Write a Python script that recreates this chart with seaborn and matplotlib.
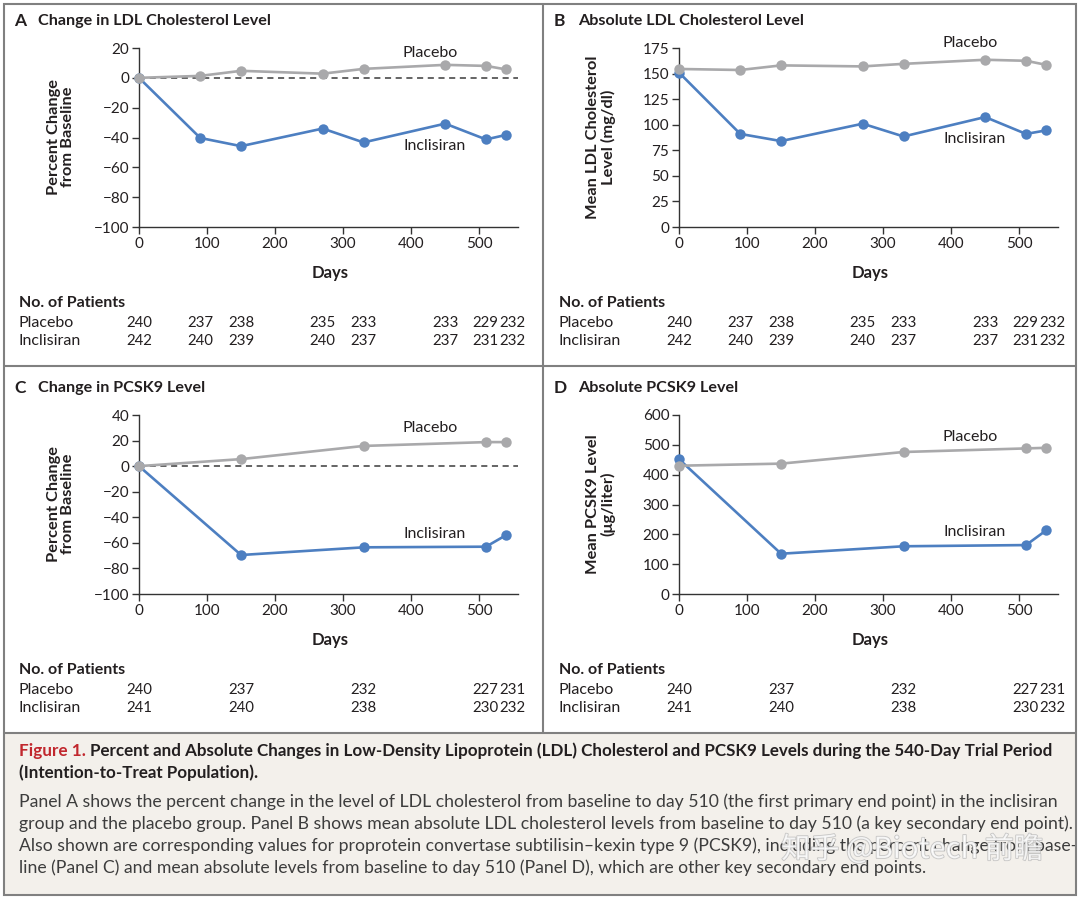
import matplotlib
matplotlib.use("Agg")
import matplotlib.pyplot as plt
import matplotlib.patheffects as pe
import matplotlib.transforms as mtransforms
from matplotlib import font_manager
from matplotlib.lines import Line2D
from matplotlib.patches import Rectangle
import pandas as pd
import seaborn as sns

# ── Data ──────────────────────────────────────────────────────────────────────

ldl_days = [0, 90, 150, 270, 330, 450, 510, 540]
ldl_pct_placebo    = [0, 1.3, 4.7, 2.8, 6.0, 8.7, 8.0, 5.6]
ldl_pct_inclisiran = [0, -40.3, -45.8, -34.0, -43.3, -30.7, -41.3, -38.2]
ldl_abs_placebo    = [154.5, 153.5, 158.0, 157.0, 159.5, 163.5, 162.5, 158.5]
ldl_abs_inclisiran = [151.0, 91.0, 84.0, 101.0, 88.5, 107.5, 91.0, 94.5]
ldl_n_placebo    = [240, 237, 238, 235, 233, 233, 229, 232]
ldl_n_inclisiran = [242, 240, 239, 240, 237, 237, 231, 232]

pcsk9_days = [0, 150, 330, 510, 540]
pcsk9_pct_placebo    = [0, 5.5, 15.8, 18.8, 18.8]
pcsk9_pct_inclisiran = [0, -69.5, -63.5, -63.0, -53.8]
pcsk9_abs_placebo    = [430, 437, 476, 488, 490]
pcsk9_abs_inclisiran = [452, 135, 160, 164, 214]
pcsk9_n_placebo    = [240, 237, 232, 227, 231]
pcsk9_n_inclisiran = [241, 240, 238, 230, 232]

x_ticks = [0, 100, 200, 300, 400, 500]

# ── Style ─────────────────────────────────────────────────────────────────────

W, H = 1080, 899
GREY = "#a9a9ab"
BLUE = "#4d7fc1"
INK  = "#231f20"
RED  = "#c1272d"
FRAME = "#808080"

sns.set_style("ticks")
names = set(font_manager.get_font_names())


def pick(*cands):
    for c in cands:
        if c in names:
            return c
    return "DejaVu Sans"


MAIN = pick("Lato", "Open Sans", "Noto Sans")
plt.rcParams["font.family"] = [MAIN, "DejaVu Sans"]
plt.rcParams["axes.unicode_minus"] = True


def fx(px):
    return px / W


def fy(py):
    return 1 - py / H


fig = plt.figure(figsize=(W / 100, H / 100), dpi=100)
fig.patch.set_facecolor("white")

panels = [
    dict(col=0, row=0, letter="A", title="Change in LDL Cholesterol Level",
         ylabel="Percent Change\nfrom Baseline", ylim=(-100, 20), yticks=range(-100, 21, 20),
         days=ldl_days, pla=ldl_pct_placebo, inc=ldl_pct_inclisiran, zero=True,
         n_pla=ldl_n_placebo, n_inc=ldl_n_inclisiran, lab_pla=16.5, lab_inc=-45.5),
    dict(col=1, row=0, letter="B", title="Absolute LDL Cholesterol Level",
         ylabel="Mean LDL Cholesterol\nLevel (mg/dl)", ylim=(0, 175), yticks=range(0, 176, 25),
         days=ldl_days, pla=ldl_abs_placebo, inc=ldl_abs_inclisiran, zero=False,
         n_pla=ldl_n_placebo, n_inc=ldl_n_inclisiran, lab_pla=180, lab_inc=86),
    dict(col=0, row=1, letter="C", title="Change in PCSK9 Level",
         ylabel="Percent Change\nfrom Baseline", ylim=(-100, 40), yticks=range(-100, 41, 20),
         days=pcsk9_days, pla=pcsk9_pct_placebo, inc=pcsk9_pct_inclisiran, zero=True,
         n_pla=pcsk9_n_placebo, n_inc=pcsk9_n_inclisiran, lab_pla=30, lab_inc=-53),
    dict(col=1, row=1, letter="D", title="Absolute PCSK9 Level",
         ylabel="Mean PCSK9 Level\n(\u03bcg/liter)", ylim=(0, 600), yticks=range(0, 601, 100),
         days=pcsk9_days, pla=pcsk9_abs_placebo, inc=pcsk9_abs_inclisiran, zero=False,
         n_pla=pcsk9_n_placebo, n_inc=pcsk9_n_inclisiran, lab_pla=526, lab_inc=209),
]

# ── Panels ────────────────────────────────────────────────────────────────────

for p in panels:
    dx, dy = 540 * p["col"], 367 * p["row"]
    ax = fig.add_axes([fx(139 + dx), fy(227 + dy), 379 / W, 179 / H])
    n = len(p["days"])
    df = pd.DataFrame({
        "day": p["days"] * 2,
        "value": p["inc"] + p["pla"],
        "group": ["Inclisiran"] * n + ["Placebo"] * n,
    })
    if p["zero"]:
        ax.axhline(0, color="#3a3a3a", lw=1.1, ls=(0, (4, 3)), zorder=1)
    sns.lineplot(data=df, x="day", y="value", hue="group",
                 hue_order=["Inclisiran", "Placebo"],
                 palette={"Inclisiran": BLUE, "Placebo": GREY},
                 marker="o", markersize=7.5, markeredgewidth=0, linewidth=1.9,
                 legend=False, ax=ax, zorder=3)
    for ln in ax.lines:
        ln.set_clip_on(False)

    ax.set_xlim(0, 557)
    ax.set_ylim(*p["ylim"])
    ax.set_xticks(x_ticks)
    ax.set_yticks(list(p["yticks"]))
    ax.set_xlabel("")
    ax.set_ylabel("")
    sns.despine(ax=ax)
    for s in ("left", "bottom"):
        ax.spines[s].set_color("#333333")
        ax.spines[s].set_linewidth(1.0)
    ax.tick_params(direction="out", length=5, width=1.0, color="#333333",
                   labelsize=11, labelcolor=INK, pad=2)

    ax.text(428, p["lab_pla"], "Placebo", ha="center", va="center", fontsize=11.5, color=INK)
    ax.text(434, p["lab_inc"], "Inclisiran", ha="center", va="center", fontsize=11.5, color=INK)

    # titles and labels
    fig.text(fx(14 + dx), fy(21 + dy), p["letter"], ha="left", va="center",
             fontsize=12.5, fontweight="bold", color=INK)
    fig.text(fx(38 + dx), fy(21 + dy), p["title"], ha="left", va="center",
             fontsize=11.6, fontweight="bold", color=INK)
    fig.text(fx(61 + dx), fy(137 + dy), p["ylabel"], ha="center", va="center",
             rotation=90, fontsize=11.8, fontweight="bold", color=INK,
             multialignment="center", linespacing=1.05)
    fig.text(fx(330 + dx), fy(273 + dy), "Days", ha="center", va="center",
             fontsize=12, fontweight="bold", color=INK)

    # number at risk table
    fig.text(fx(19 + dx), fy(303 + dy), "No. of Patients", ha="left", va="center",
             fontsize=11.5, fontweight="bold", color=INK)
    fig.text(fx(19 + dx), fy(323 + dy), "Placebo", ha="left", va="center",
             fontsize=11.5, color=INK)
    fig.text(fx(19 + dx), fy(341 + dy), "Inclisiran", ha="left", va="center",
             fontsize=11.5, color=INK)
    trans = mtransforms.blended_transform_factory(ax.transData, fig.transFigure)
    for i, d in enumerate(p["days"]):
        off = 9 if d == 540 else (-1 if d == 510 else 0)
        ax.text(d + off, fy(323 + dy), str(p["n_pla"][i]), transform=trans,
                ha="center", va="center", fontsize=10.8, color=INK)
        ax.text(d + off, fy(341 + dy), str(p["n_inc"][i]), transform=trans,
                ha="center", va="center", fontsize=10.8, color=INK)

# ── Frame and dividers ────────────────────────────────────────────────────────

fig.patches.append(Rectangle((fx(4), fy(895)), fx(1072), 162 / H, transform=fig.transFigure,
                             facecolor="#f3f0eb", edgecolor="none", zorder=0))
fig.patches.append(Rectangle((fx(4), fy(895)), fx(1072), 891 / H, transform=fig.transFigure,
                             facecolor="none", edgecolor=FRAME, lw=1.5, zorder=5))
fig.lines.append(Line2D([fx(543), fx(543)], [fy(4), fy(733)], transform=fig.transFigure,
                        color=FRAME, lw=1.5))
fig.lines.append(Line2D([fx(4), fx(1076)], [fy(366), fy(366)], transform=fig.transFigure,
                        color=FRAME, lw=1.5))
fig.lines.append(Line2D([fx(4), fx(1076)], [fy(733), fy(733)], transform=fig.transFigure,
                        color=FRAME, lw=1.5))

# ── Caption ───────────────────────────────────────────────────────────────────

fig.canvas.draw()
renderer = fig.canvas.get_renderer()
CAP_FONT = [MAIN, "DejaVu Sans"]


def fit(txt, right_px):
    # scale the font so the line ends where it does in the print
    bb = txt.get_window_extent(renderer)
    txt.set_fontsize(txt.get_fontsize() * (right_px - bb.x0) / bb.width)
    return txt.get_fontsize()


title_line = ("Percent and Absolute Changes in Low-Density Lipoprotein (LDL) Cholesterol "
              "and PCSK9 Levels during the 540-Day Trial Period")
head = fig.text(fx(19), fy(751), "Figure 1. " + title_line, ha="left", va="center",
                fontsize=12, fontweight="bold", family=CAP_FONT)
cap_size = fit(head, 1054)
head.remove()
fig_lbl = fig.text(fx(19), fy(751), "Figure 1.", ha="left", va="center", fontsize=cap_size,
                   fontweight="bold", color=RED, family=CAP_FONT)
bb = fig_lbl.get_window_extent(renderer)
t1 = fig.text(bb.x1 / W + fx(4), fy(751), title_line, ha="left", va="center",
              fontsize=cap_size, fontweight="bold", color=INK, family=CAP_FONT)
fit(t1, 1054)
fig.text(fx(19), fy(773), "(Intention-to-Treat Population).", ha="left", va="center",
         fontsize=t1.get_fontsize(), fontweight="bold", color=INK, family=CAP_FONT)

body = [
    "Panel A shows the percent change in the level of LDL cholesterol from baseline to day 510 "
    "(the first primary end point) in the inclisiran",
    "group and the placebo group. Panel B shows mean absolute LDL cholesterol levels from "
    "baseline to day 510 (a key secondary end point).",
    "Also shown are corresponding values for proprotein convertase subtilisin\u2013kexin type 9 "
    "(PCSK9), including the percent change from base-",
    "line (Panel C) and mean absolute levels from baseline to day 510 (Panel D), which are "
    "other key secondary end points.",
]
lines = [fig.text(fx(19), fy(802 + 22 * i), line, ha="left", va="center", fontsize=12,
                  color="#3d3d3d", family=CAP_FONT) for i, line in enumerate(body)]
body_size = fit(lines[0], 1057)
for t in lines[1:]:
    t.set_fontsize(body_size)

# watermark
fig.text(fx(912), fy(850), "\u77e5\u4e4e @Biotech \u524d\u77bb", ha="center", va="center",
         fontsize=21, color="white", alpha=0.75,
         family=["Noto Sans CJK SC", "DejaVu Sans"],
         path_effects=[pe.withStroke(linewidth=1.2, foreground="#b8b8b8")])

fig.savefig("out.png", dpi=100)
plt.close(fig)
